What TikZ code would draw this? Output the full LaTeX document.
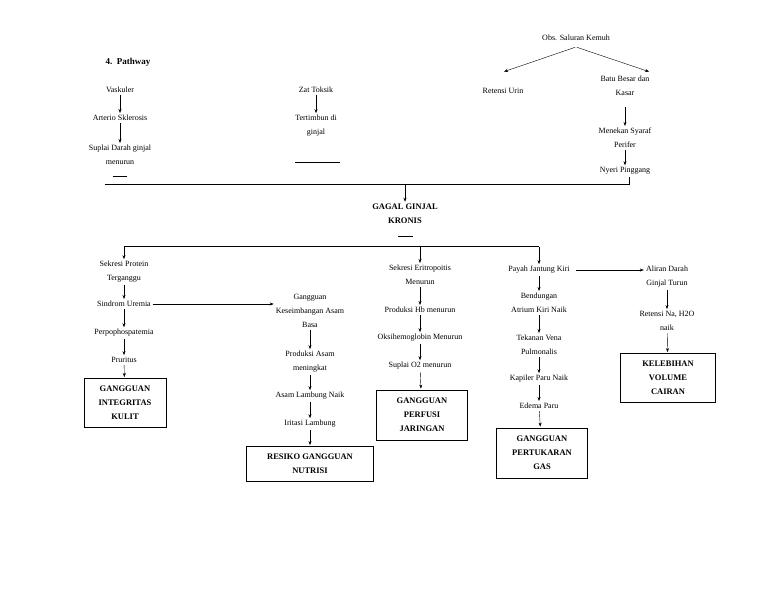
\documentclass[tikz,border=0pt]{standalone}
\usepackage{fontspec}
\setmainfont{Liberation Serif}
\usetikzlibrary{arrows.meta}
\begin{document}
\begin{tikzpicture}[x=1pt,y=-1pt,
  t/.style={align=center,inner sep=1pt,font=\fontsize{8}{14}\selectfont},
  b/.style={draw,thick,align=center,inner sep=1pt,font=\fontsize{8.5}{14}\selectfont\bfseries},
  a/.style={-{Stealth[length=4pt,width=3pt]},thin,shorten >=1pt,shorten <=1pt},
  ln/.style={thin}]
\useasboundingbox (0,0) rectangle (768,594);
\node[t,font=\fontsize{9}{11}\selectfont\bfseries] (title) at (128,62) {4.\enspace Pathway};
\node[t] (vas) at (120,90) {Vaskuler};
\node[t] (art) at (120,118) {Arterio Sklerosis};
\node[t] (sup) at (120,155) {Suplai Darah ginjal\\menurun};
\draw[a] (vas) -- (art); \draw[a] (art) -- (sup);
\coordinate (m1) at (113,176); \coordinate (m2) at (127,176); \draw[ln] (m1) -- (m2);
\node[t] (zat) at (316,90) {Zat Toksik};
\node[t] (ter) at (316,126) {Tertimbun di\\ginjal};
\draw[a] (zat) -- (ter);
\coordinate (z1) at (295,162); \coordinate (z2) at (340,162); \draw[ln] (z1) -- (z2);
\node[t] (obs) at (576,38) {Obs. Saluran Kemuh};
\node[t] (ret) at (503,91) {Retensi Urin};
\node[t] (batu) at (625,86) {Batu Besar dan\\Kasar};
\coordinate (o) at (576,47);
\draw[a] (o) -- (503,72);
\draw[a] (o) -- (650,72);
\node[t] (men) at (625,138) {Menekan Syaraf\\Perifer};
\node[t] (nye) at (625,171) {Nyeri Pinggang};
\coordinate (bt) at (625,106);
\draw[a] (bt) -- (men); \draw[a] (men) -- (nye);
\coordinate (h1) at (105,184); \coordinate (h2) at (629,184); \coordinate (h3) at (629,177);
\draw[ln] (h1) -- (h2) -- (h3);
\node[b,draw=none] (ggk) at (405,214) {GAGAL GINJAL\\KRONIS};
\coordinate (g0) at (405,184);
\draw[a] (g0) -- (ggk);
\coordinate (k1) at (398,236); \coordinate (k2) at (413,236); \draw[ln] (k1) -- (k2);
\coordinate (L) at (124,246); \coordinate (M) at (420,246); \coordinate (R) at (539,246);
\draw[ln] (L) -- (R);
% left column
\node[t] (sp) at (124,272) {Sekresi Protein\\Terganggu};
\node[t] (su) at (124,304) {Sindrom Uremia};
\node[t] (pe) at (124,333) {Perpophospatemia};
\node[t] (pr) at (124,360) {Pruritus};
\node[b,minimum width=82pt,minimum height=49pt] (b1) at (125,403) {GANGGUAN\\INTEGRITAS\\KULIT};
\draw[a] (L) -- (sp); \draw[a] (sp) -- (su); \draw[a] (su) -- (pe); \draw[a] (pe) -- (pr); \draw[a] (pr) -- (b1);
% middle column
\node[t] (gk) at (310,311) {Gangguan\\Keseimbangan Asam\\Basa};
\node[t] (pa) at (310,362) {Produksi Asam\\meningkat};
\node[t] (al) at (310,396) {Asam Lambung Naik};
\node[t] (il) at (310,424) {Iritasi Lambung};
\node[b,minimum width=127pt,minimum height=35pt] (b2) at (310,464) {RESIKO GANGGUAN\\NUTRISI};
\draw[a] (su) -- (gk.west |- su);
\draw[a] (gk) -- (pa); \draw[a] (pa) -- (al); \draw[a] (al) -- (il); \draw[a] (il) -- (b2);
% column 3
\node[t] (se) at (420,275) {Sekresi Eritropoitis\\Menurun};
\node[t] (ph) at (420,310) {Produksi Hb menurun};
\node[t] (ok) at (420,338) {Oksihemoglobin Menurun};
\node[t] (so) at (420,366) {Suplai O2 menurun};
\node[b,minimum width=91pt,minimum height=50pt] (b3) at (422,415) {GANGGUAN\\PERFUSI\\JARINGAN};
\draw[a] (M) -- (se); \draw[a] (se) -- (ph); \draw[a] (ph) -- (ok); \draw[a] (ok) -- (so); \draw[a] (so) -- (b3);
% column 4
\node[t] (pj) at (539,270) {Payah Jantung Kiri};
\node[t] (be) at (539,303) {Bendungan\\Atrium Kiri Naik};
\node[t] (tv) at (539,345) {Tekanan Vena\\Pulmonalis};
\node[t] (kp) at (539,379) {Kapiler Paru Naik};
\node[t] (ep) at (539,406) {Edema Paru};
\node[b,minimum width=91pt,minimum height=50pt] (b4) at (542,453) {GANGGUAN\\PERTUKARAN\\GAS};
\draw[a] (R) -- (pj); \draw[a] (pj) -- (be); \draw[a] (be) -- (tv); \draw[a] (tv) -- (kp); \draw[a] (kp) -- (ep); \draw[a] (ep) -- (b4);
% column 5
\node[t] (ad) at (667,277) {Aliran Darah\\Ginjal Turun};
\node[t] (rn) at (667,321) {Retensi Na, H2O\\naik};
\node[b,minimum width=95pt,minimum height=49pt] (b5) at (668,378) {KELEBIHAN\\VOLUME\\CAIRAN};
\draw[a] (pj.east) ++(4,0) coordinate (pje) (pje) -- (ad.west |- pj);
\draw[a] (ad) -- (rn); \draw[a] (rn) -- (b5);
\end{tikzpicture}
\end{document}
